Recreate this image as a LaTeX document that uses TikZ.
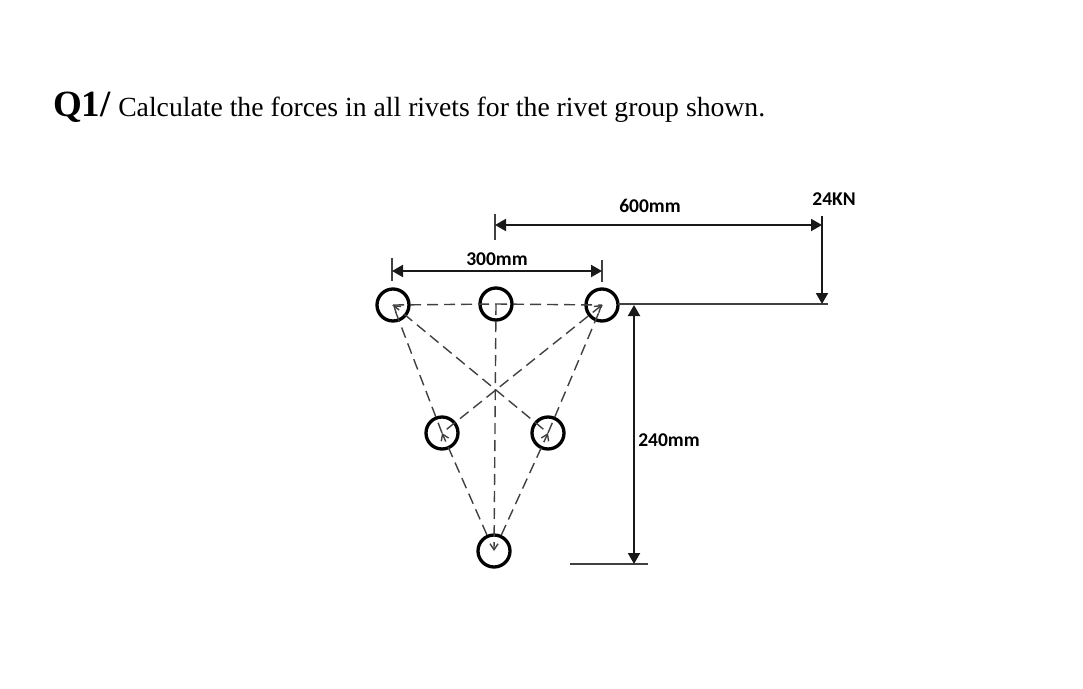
\documentclass[tikz,border=0pt]{standalone}
\usepackage{fontspec}
\setmainfont{Liberation Serif}
\newfontfamily\labelfont{Carlito}
\usetikzlibrary{arrows.meta}
\tikzset{
	rivet/.style={circle,draw,line width=3.3pt,minimum size=32pt,inner sep=0pt},
	dimtext/.style={font=\labelfont\bfseries\fontsize{19.5}{22}\selectfont,inner sep=0pt},
	dimline/.style={line width=2pt,draw=black!90,{Triangle[length=11pt,width=12pt]}-{Triangle[length=11pt,width=12pt]}},
	loadline/.style={line width=2pt,draw=black!90,-{Triangle[length=11pt,width=12pt]}},
	thinline/.style={line width=1.6pt,draw=black!75},
	dashline/.style={line width=1.4pt,draw=black!75,dash pattern=on 11pt off 6pt},
	dashtip/.style={dashline,-{Straight Barb[length=6pt,width=8pt]}}
}
\begin{document}
\begin{tikzpicture}[x=1pt,y=-1pt]
	\useasboundingbox (0,0) rectangle (1083,688);

	\node [anchor=base west,inner sep=0pt] (title) at (53,116)
		{{\fontsize{37}{40}\selectfont\bfseries Q1/}\hspace{5pt} {\fontsize{27.7}{30}\selectfont Calculate the forces in all rivets for the rivet group shown.}};

	\begin{scope}[every node/.style={rivet}]
	\node (r-1) at (393, 305) {};
	\node (r-2) at (496, 304) {};
	\node (r-3) at (602, 305) {};

	\node (r-4) at (442, 433) {};
	\node (r-5) at (548, 433) {};

	\node (r-6) at (494, 551) {};
	\end{scope}

	\coordinate (tick-1a) at (392, 258);
	\coordinate (tick-1b) at (392, 281);
	\coordinate (tick-2a) at (602, 260);
	\coordinate (tick-2b) at (602, 282);
	\coordinate (tick-3a) at (495, 214);
	\coordinate (tick-3b) at (495, 240);

	\coordinate (dim-1a) at (392, 271);
	\coordinate (dim-1b) at (602, 271);
	\coordinate (dim-2a) at (495, 225);
	\coordinate (dim-2b) at (822, 225);
	\coordinate (dim-3a) at (634, 305);
	\coordinate (dim-3b) at (634, 564);

	\coordinate (load-a) at (822, 216);
	\coordinate (load-b) at (822, 304);
	\coordinate (base-a) at (618, 304);
	\coordinate (base-b) at (828, 304);
	\coordinate (foot-a) at (570, 564);
	\coordinate (foot-b) at (648, 564);

	% dashed lines between the rivets
	\draw [dashline] (r-1.center) -- (r-2.center);
	\draw [dashline] (r-2.center) -- (r-3.center);

	\draw [dashtip] (r-2.center) -- (r-6.center);
	\draw [dashtip,shorten <=6pt] (r-5.center) -- (r-1.center);
	\draw [dashtip,shorten <=6pt] (r-4.center) -- (r-3.center);

	\draw [dashtip] (r-6) -- (r-4.center);
	\draw [dashtip] (r-6) -- (r-5.center);
	\draw [dashline] (r-4.center) -- (r-1.center);
	\draw [dashline] (r-5.center) -- (r-3.center);

	\draw [thinline] (tick-1a) -- (tick-1b);
	\draw [thinline] (tick-2a) -- (tick-2b);
	\draw [thinline] (tick-3a) -- (tick-3b);
	\draw [thinline] (base-a) -- (base-b);
	\draw [thinline] (foot-a) -- (foot-b);

	\draw [dimline] (dim-1a) -- (dim-1b);
	\draw [dimline] (dim-2a) -- (dim-2b);
	\draw [dimline] (dim-3a) -- (dim-3b);
	\draw [loadline] (load-a) -- (load-b);

	\node [dimtext] (label-300) at (497, 259) {300mm};
	\node [dimtext] (label-600) at (650, 206) {600mm};
	\node [dimtext] (label-24) at (834, 199) {24KN};
	\node [dimtext] (label-240) at (669, 440) {240mm};
\end{tikzpicture}
\end{document}
